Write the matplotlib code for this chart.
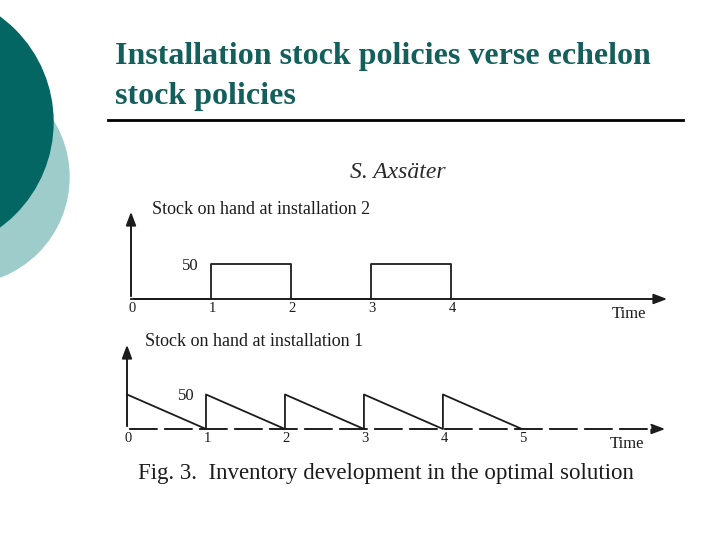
import matplotlib
matplotlib.use("Agg")
import matplotlib.pyplot as plt
from matplotlib.patches import Circle

# ---- data ----
title_lines = ["Installation stock policies verse echelon", "stock policies"]
author = "S. Axsäter"
caption = "Fig. 3.  Inventory development in the optimal solution"

inst2_label = "Stock on hand at installation 2"
inst2_time = [0, 1, 1, 2, 2, 3, 3, 4, 4]
inst2_stock = [0, 0, 50, 50, 0, 0, 50, 50, 0]
inst2_ticks = [0, 1, 2, 3, 4]

inst1_label = "Stock on hand at installation 1"
inst1_time = [0, 1, 1, 2, 2, 3, 3, 4, 4, 5]
inst1_stock = [50, 0, 50, 0, 50, 0, 50, 0, 50, 0]
inst1_ticks = [0, 1, 2, 3, 4, 5]

level_label = 50
time_label = "Time"

W, H = 720, 540
fig = plt.figure(figsize=(7.2, 5.4), dpi=100)
fig.patch.set_facecolor("white")

# background decoration (pixel coords)
bg = fig.add_axes([0, 0, 1, 1])
bg.set_xlim(0, W)
bg.set_ylim(H, 0)
bg.axis("off")
bg.add_patch(Circle((-38, 177), 107, color="#9dcccb", zorder=1))
bg.add_patch(Circle((-77, 122), 130, color="#036663", zorder=2))

TEAL = "#135f5b"
serif = ["Liberation Serif", "DejaVu Serif"]
bg.text(115, 64, title_lines[0], fontsize=23, fontweight="bold", family=serif, color=TEAL)
bg.text(115, 104, title_lines[1], fontsize=23, fontweight="bold", family=serif, color=TEAL)
bg.plot([108, 683], [120, 120], color="black", lw=2)

INK = "#1c1c1c"
bg.text(398, 173, author, fontsize=17, style="italic", family=serif, color="#2a2a2a",
        ha="center", va="center")
bg.text(138, 474, caption, fontsize=16.5, family=serif, color=INK, va="center")


def px_axes(left, right, y0, ytop):
    return fig.add_axes([left / W, (H - y0) / H, (right - left) / W, (y0 - ytop) / H])


def panel(ax, t, s, ticks, ylab, xmax, ymax, dashed, tick_dy, lab_dx):
    ax.set_xlim(0, xmax)
    ax.set_ylim(0, ymax)
    ax.axis("off")
    ax.patch.set_alpha(0)
    ax.plot(t, s, color=INK, lw=1.3, clip_on=False)
    ax.annotate("", xy=(0, ymax), xytext=(0, 0),
                arrowprops=dict(arrowstyle="-|>,head_length=0.8,head_width=0.3", color=INK, lw=1.4),
                annotation_clip=False)
    ax.annotate("", xy=(xmax, 0), xytext=(0, 0),
                arrowprops=dict(arrowstyle="-|>,head_length=0.8,head_width=0.3", color=INK, lw=1.4,
                                linestyle=(0, (14, 4)) if dashed else "-"),
                annotation_clip=False)
    for k in ticks:
        ax.annotate(str(k), (k, 0), xytext=(1, -tick_dy), textcoords="offset pixels",
                    ha="center", va="center", fontsize=10.5, family=serif, color=INK,
                    annotation_clip=False)
    ax.annotate(ylab, (0, ymax), xytext=(lab_dx, 0), textcoords="offset pixels",
                ha="left", va="center", fontsize=13, family=serif, color=INK,
                annotation_clip=False)
    ax.annotate(str(level_label), (0, level_label), xytext=(59, -2), textcoords="offset pixels",
                ha="center", va="center", fontsize=12, family=serif, color=INK,
                annotation_clip=False)
    ax.annotate(time_label, (xmax, 0), xytext=(-41, -15), textcoords="offset pixels",
                ha="center", va="center", fontsize=12, family=serif, color=INK,
                annotation_clip=False)


ax2 = px_axes(131, 670, 299, 209)
panel(ax2, inst2_time, inst2_stock, inst2_ticks, inst2_label, 6.74, 128.6, False, 9, 21)

ax1 = px_axes(127, 668, 429, 342)
panel(ax1, inst1_time, inst1_stock, inst1_ticks, inst1_label, 6.85, 126, True, 10, 18)

fig.savefig("out.png", dpi=100)
